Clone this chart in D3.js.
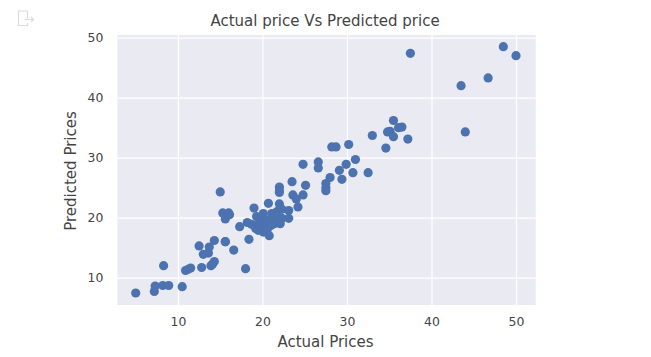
<html>

<head>
    <script src="https://d3js.org/d3.v7.min.js"></script>
    <style>
        body { margin: 0; background: #fff; }
        svg { display: block; }
        text { font-family: "DejaVu Sans", sans-serif; fill: #444; }
        .gridlines line { stroke: #fff; stroke-width: 1.2; }
        .gridlines .domain { stroke: none; }
        .axis line, .axis .domain { stroke: none; }
        .axis text { font-size: 12.4px; }
    </style>
</head>

<body>
    <svg id="scatter" width="651" height="357"></svg>
    <script>
        const chartTitle = "Actual price Vs Predicted price";
        const xLabel = "Actual Prices";
        const yLabel = "Predicted Prices";
        const xTicks = [10, 20, 30, 40, 50];
        const yTicks = [10, 20, 30, 40, 50];

        // low prices first
        const actualPrices = [
            5, 7.2, 7.3, 8.2, 8.9, 10.5, 8.3, 10.9, 11.2, 11.5, 12.8, 13.9, 14.1, 14.3, 12.5, 13, 13.6, 13.7, 14.3, 15.6,
            15, 15.3, 15.6, 16, 16.1, 15.6, 16.6, 18, 18.4, 17.3, 18.2, 18.7, 19, 19.2, 19.3, 19.5, 19.6, 19.7, 19.8, 20.1,
            20, 20.1, 20.2, 20.3, 20.5, 20.5, 20.6, 20.9, 20.7, 20.8, 21.1, 21, 21.2, 21.5, 21.4, 21.7, 21.7, 22.1, 22, 22,
            22, 22, 22.3, 22.3, 23.1, 23.1, 23.5, 23.6, 24, 24.2, 24.8, 24.8, 25.1, 26.6, 26.6, 27.5, 27.5, 27.5, 28, 28.2,
            28.7, 29.1, 29.4, 29.9, 30.2, 30.7, 31, 32.5, 33, 34.6, 34.8, 35.1, 35.5, 35.5, 36.1, 36.5, 37.2, 37.5, 43.5, 44,
            46.7, 48.5, 50
        ];
        const predictedPrices = [
            7.45, 7.7, 8.6, 8.7, 8.7, 8.5, 12, 11.2, 11.4, 11.6, 11.7, 12, 12.3, 12.7, 15.3, 13.9, 14.1, 15.1, 16.2, 16,
            24.3, 20.8, 19.8, 20.8, 20.5, 16, 14.6, 11.5, 16.4, 18.5, 19.2, 18.9, 21.6, 18.2, 20.2, 17.9, 19.2, 18.5, 20.1, 17.6,
            19, 20.7, 17.9, 18.7, 19.6, 17.7, 18.2, 19.3, 22.4, 17, 20.7, 18.7, 19.9, 19.3, 19, 21, 19.9, 19, 25.1, 24.5,
            24.2, 22.3, 19.9, 21.4, 19.9, 21.2, 26, 23.8, 23.1, 21.8, 28.9, 23.8, 25.4, 29.3, 28.3, 25.7, 25, 24.5, 26.7, 31.8,
            31.8, 27.9, 26.4, 28.9, 32.2, 27.5, 29.7, 27.5, 33.7, 31.6, 34.3, 34.4, 36.2, 33.5, 35, 35.1, 33.1, 47.4, 42, 34.3,
            43.3, 48.5, 47
        ];

        const svg = d3.select("svg#scatter");
        const margin = { top: 35, right: 115.3, bottom: 52, left: 117.3 };
        const chartWidth = svg.attr("width") - margin.left - margin.right;
        const chartHeight = svg.attr("height") - margin.top - margin.bottom;

        const xScale = d3.scaleLinear().domain([2.82, 52.33]).range([0, chartWidth]);
        const yScale = d3.scaleLinear().domain([5.45, 50.45]).range([chartHeight, 0]);

        // output icon of the notebook, top left
        const icon = svg.append("g").attr("fill", "none").attr("stroke", "#dcdcdc").attr("stroke-width", 1.2);
        icon.append("path").attr("d", "M27.5 19.5 V11 H18.5 V25.5 H27.5 V23");
        icon.append("path").attr("d", "M25 19.5 H33.5 M31 17 L33.5 19.5 L31 22");

        const chartArea = svg.append("g").attr("transform", `translate(${margin.left},${margin.top})`);

        chartArea.append("rect")
            .attr("width", chartWidth)
            .attr("height", chartHeight)
            .attr("fill", "#eaeaf2");

        // create gridlines and axes
        chartArea.append("g")
            .attr("class", "x gridlines")
            .attr("transform", `translate(0,${chartHeight})`)
            .call(d3.axisBottom(xScale).tickValues(xTicks).tickSize(-chartHeight).tickFormat(""));
        chartArea.append("g")
            .attr("class", "y gridlines")
            .call(d3.axisLeft(yScale).tickValues(yTicks).tickSize(-chartWidth).tickFormat(""));

        chartArea.append("g")
            .attr("class", "x axis")
            .attr("transform", `translate(0,${chartHeight})`)
            .call(d3.axisBottom(xScale).tickValues(xTicks).tickSize(0).tickPadding(12));
        chartArea.append("g")
            .attr("class", "y axis")
            .call(d3.axisLeft(yScale).tickValues(yTicks).tickSize(0).tickPadding(14));

        chartArea.selectAll("circle")
            .data(actualPrices)
            .join("circle")
            .attr("r", 4.6)
            .attr("fill", "#4c72b0")
            .attr("cx", d => xScale(d))
            .attr("cy", (d, i) => yScale(predictedPrices[i]));

        svg.append("text")
            .attr("x", 325)
            .attr("y", 26)
            .attr("text-anchor", "middle")
            .style("font-size", "15px")
            .text(chartTitle);
        svg.append("text")
            .attr("x", 325.5)
            .attr("y", 347)
            .attr("text-anchor", "middle")
            .style("font-size", "15px")
            .text(xLabel);
        svg.append("text")
            .attr("transform", `translate(76,${margin.top + chartHeight / 2 + 1}) rotate(-90)`)
            .attr("text-anchor", "middle")
            .style("font-size", "15px")
            .text(yLabel);
    </script>
</body>

</html>
